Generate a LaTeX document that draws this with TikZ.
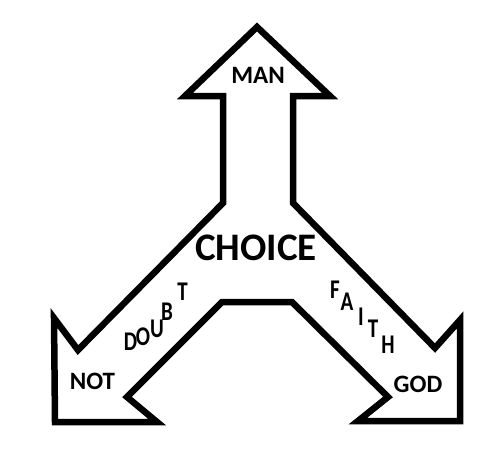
\documentclass[tikz,border=0pt]{standalone}
\usepackage{fontspec}
\setmainfont{Carlito}
\newcommand{\narrowletter}[1]{\scalebox{0.78}[1]{#1}}
\tikzset{
  outline/.style={draw=black,line width=6.5pt,line join=miter,miter limit=10},
  lbl/.style={inner sep=0pt,font=\bfseries\fontsize{25}{25}\selectfont},
  biglbl/.style={inner sep=0pt,font=\bfseries\fontsize{39}{39}\selectfont},
  letter/.style={inner sep=0pt,font=\bfseries\fontsize{27}{27}\selectfont}
}
\begin{document}
\begin{tikzpicture}[x=1pt,y=-1pt]
\useasboundingbox (0,0) rectangle (500,452);
\draw[outline] (257,27) -- (330,96) -- (293,96) -- (293,203) -- (435,348) -- (460,320)
  -- (460,421) -- (358,421) -- (388,397) -- (292,302) -- (222,302) -- (127,397)
  -- (157,422) -- (55,422) -- (54,318) -- (78,350) -- (223,203) -- (223,96)
  -- (185,96) -- cycle;
\node[lbl] (man) at (258,75) {MAN};
\node[biglbl] (choice) at (256,248) {CHOICE};
\node[lbl] (not) at (92.5,381) {NOT};
\node[lbl] (god) at (418,384.5) {GOD};
\node[letter] (d1) at (130.5,341.5) {\narrowletter{D}};
\node[letter] (d2) at (143,337) {\narrowletter{O}};
\node[letter] (d3) at (157,329) {\narrowletter{U}};
\node[letter] (d4) at (167,311.5) {\narrowletter{B}};
\node[letter] (d5) at (182.5,291.5) {\narrowletter{T}};
\node[letter] (f1) at (335,290) {\narrowletter{F}};
\node[letter] (f2) at (347,302) {\narrowletter{A}};
\node[letter] (f3) at (361,317) {\narrowletter{I}};
\node[letter] (f4) at (373,329) {\narrowletter{T}};
\node[letter] (f5) at (388,345) {\narrowletter{H}};
\end{tikzpicture}
\end{document}
